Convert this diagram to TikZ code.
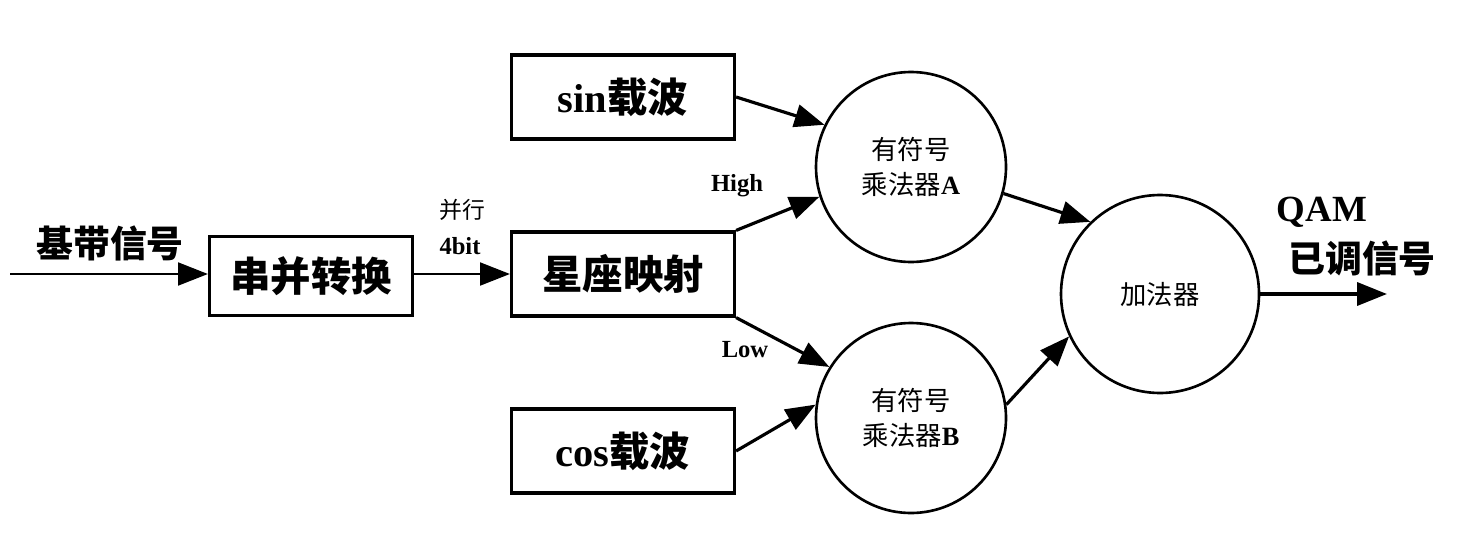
\documentclass[tikz,border=0pt]{standalone}
\usepackage{fontspec}
\setmainfont{Liberation Serif}
\newfontfamily\cjk{Noto Sans CJK SC}
\usetikzlibrary{arrows.meta}
\begin{document}
\begin{tikzpicture}[x=0.02cm,y=-0.02cm,
  box/.style={draw,line width=1.8pt,minimum width=223*0.02cm,minimum height=84*0.02cm,inner sep=0pt,font=\fontsize{23}{25}\selectfont\bfseries},
  circ/.style={draw,circle,line width=1.5pt,minimum size=190*0.02cm,inner sep=0pt,align=center,font=\fontsize{15}{20}\selectfont},
  arr/.style={line width=1.8pt,-{Triangle[length=17pt,width=13pt]}},
  lbl/.style={font=\fontsize{14}{16}\selectfont\bfseries}]
\useasboundingbox (0,0) rectangle (1462,551);
\node[box,minimum width=203*0.02cm,minimum height=79*0.02cm] (sp) at (311,276) {{\cjk 串并转换}};
\node[box] (map) at (623,274) {{\cjk 星座映射}};
\node[box] (sin) at (623,97) {sin{\cjk 载波}};
\node[box] (cos) at (623,451) {cos{\cjk 载波}};
\node[circ] (A) at (911,167) {{\cjk 有符号}\\{\cjk 乘法器}\textbf{A}};
\node[circ] (B) at (911,418) {{\cjk 有符号}\\{\cjk 乘法器}\textbf{B}};
\node[circ,minimum size=198*0.02cm] (add) at (1160,294) {{\cjk 加法器}};
\coordinate (in) at (10,274);
\coordinate (out) at (1387,294);
\draw[arr,line width=1.4pt] (in) -- (sp.west|-in);
\node[font=\fontsize{21}{23}\selectfont\bfseries] (lin) at (110,243) {{\cjk 基带信号}};
\draw[arr,line width=1.4pt] (sp.east|-map) -- (map.west);
\node[font=\fontsize{13}{15}\selectfont] (p1) at (462,210) {{\cjk 并行}};
\node[lbl] (p2) at (460,246) {4bit};
\draw[arr] (map.north east) -- (A.198);
\node[lbl] (hi) at (737,186) {High};
\draw[arr] (map.south east) -- (B.148);
\node[lbl] (lo) at (745,350) {Low};
\draw[arr] (sin.east) -- (A.154);
\draw[arr] (cos.east) -- (B.172);
\draw[arr] (A.-16) -- (add.134);
\draw[arr] (B.8) -- (add.205);
\draw[arr,line width=2.2pt] (add.east) -- (out);
\node[font=\fontsize{21}{23}\selectfont\bfseries] (q) at (1322,212) {QAM};
\node[font=\fontsize{21}{23}\selectfont\bfseries] (q2) at (1362,258) {{\cjk 已调信号}};
\end{tikzpicture}
\end{document}
